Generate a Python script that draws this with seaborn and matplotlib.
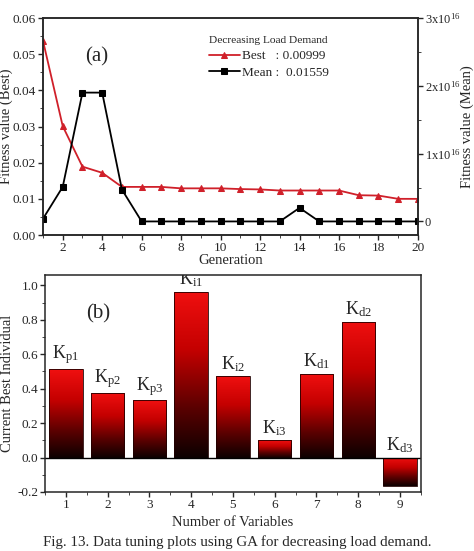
import matplotlib
matplotlib.use("agg")
import matplotlib.pyplot as plt
from matplotlib.colors import LinearSegmentedColormap
from matplotlib.ticker import MultipleLocator, FixedLocator, FixedFormatter, FormatStrFormatter
import numpy as np
import seaborn as sns

# panel (a): GA convergence
generation = list(range(1, 21))
best_fitness = [0.0537, 0.0301, 0.0189, 0.0172, 0.0133, 0.0133, 0.0133, 0.0129, 0.0129, 0.0129,
                0.0127, 0.0126, 0.0123, 0.0123, 0.0123, 0.0123, 0.0110, 0.0109, 0.0100, 0.00999]
# mean fitness in units of 1e16
mean_fitness = [0.04, 0.51, 1.90, 1.90, 0.47, 0.0, 0.0, 0.0, 0.0, 0.0,
                0.0, 0.0, 0.0, 0.20, 0.0, 0.0, 0.0, 0.0, 0.0, 0.0]
mean_ticks = [0, 1, 2, 3]
mean_ticklabels = ["0", "1x10$^{16}$", "2x10$^{16}$", "3x10$^{16}$"]

# panel (b): best individual
variables = [1, 2, 3, 4, 5, 6, 7, 8, 9]
best_individual = [0.514, 0.377, 0.333, 0.964, 0.473, 0.100, 0.485, 0.790, -0.163]
var_labels = ["K$_{p1}$", "K$_{p2}$", "K$_{p3}$", "K$_{i1}$", "K$_{i2}$",
              "K$_{i3}$", "K$_{d1}$", "K$_{d2}$", "K$_{d3}$"]

sns.set_style("ticks")
plt.rcParams['font.family'] = ['Liberation Serif', 'DejaVu Serif']
plt.rcParams['mathtext.default'] = 'regular'
plt.rcParams['xtick.direction'] = 'out'
plt.rcParams['ytick.direction'] = 'out'

red = "#d0202a"
fig = plt.figure(figsize=(4.74, 5.51), dpi=100)

ax1 = fig.add_axes([0.0907, 0.5735, 0.791, 0.3938])
sns.lineplot(x=generation, y=best_fitness, ax=ax1, color=red, marker="^",
             markersize=5, markeredgecolor=red, linewidth=1.3, label="Best   : 0.00999")
ax1.set_xlim(1, 20)
ax1.set_ylim(0, 0.06)
ax1.xaxis.set_major_locator(MultipleLocator(2))
ax1.xaxis.set_minor_locator(MultipleLocator(1))
ax1.yaxis.set_major_locator(MultipleLocator(0.01))
ax1.yaxis.set_minor_locator(MultipleLocator(0.005))
ax1.yaxis.set_major_formatter(FormatStrFormatter('%.2f'))
ax1.set_xlabel("Generation", fontsize=10.5, labelpad=0)
ax1.set_ylabel("Fitness value (Best)", fontsize=10.5)
ax1.yaxis.set_label_coords(-0.081, 0.5)
ax1.tick_params(labelsize=9.5, width=1, length=3.5, pad=1.5)
ax1.tick_params(which='minor', length=2)
ax1.text(0.112, 0.80, "(a)", transform=ax1.transAxes, fontsize=15)
ax1.get_legend().remove()

ax2 = ax1.twinx()
sns.lineplot(x=generation, y=mean_fitness, ax=ax2, color="black", marker="s",
             markersize=4, markeredgecolor="black", linewidth=1.3, label="Mean :  0.01559")
ax2.set_ylim(-0.2, 3)
ax2.yaxis.set_major_locator(FixedLocator(mean_ticks))
ax2.yaxis.set_major_formatter(FixedFormatter(mean_ticklabels))
ax2.yaxis.set_minor_locator(MultipleLocator(0.5))
ax2.set_ylabel("Fitness value (Mean)", fontsize=10.5)
ax2.yaxis.set_label_coords(1.113, 0.5)
ax2.tick_params(labelsize=9, width=1, length=3.5, pad=1.5)
ax2.tick_params(which='minor', length=2)
ax2.get_legend().remove()
for a in (ax1, ax2):
    for s in a.spines.values():
        s.set_linewidth(1.1)

h1, l1 = ax1.get_legend_handles_labels()
h2, l2 = ax2.get_legend_handles_labels()
leg = ax2.legend(h1 + h2, l1 + l2, title="Decreasing Load Demand", loc="upper left",
                 bbox_to_anchor=(0.41, 0.97), frameon=False, fontsize=9.5,
                 title_fontsize=8.2, handlelength=2.4, handletextpad=0.1,
                 labelspacing=0.35)
leg._legend_box.align = "left"

# panel (b)
ax3 = fig.add_axes([0.0949, 0.1071, 0.793, 0.3938])
sns.barplot(x=variables, y=best_individual, ax=ax3, native_scale=True, width=0.8,
            color=red, edgecolor="#200000", linewidth=0.6)
cmap = LinearSegmentedColormap.from_list(
    "redblack", [(0, "#0c0000"), (0.3, "#5a0000"), (0.65, "#c40000"), (1, "#f01010")])
grad = np.linspace(0, 1, 256).reshape(-1, 1)
for p in ax3.patches:
    x0, y0 = p.get_x(), p.get_y()
    w, h = p.get_width(), p.get_height()
    lo, hi = min(y0, y0 + h), max(y0, y0 + h)
    im = ax3.imshow(grad, extent=[x0, x0 + w, lo, hi], origin="lower", cmap=cmap,
                    aspect="auto", zorder=p.get_zorder())
    im.set_clip_path(p)
    p.set_facecolor("none")
    p.set_zorder(p.get_zorder() + 0.1)

for xv, yv, lab in zip(variables, best_individual, var_labels):
    ax3.text(xv, max(yv, 0) + 0.015, lab, ha="center", va="bottom", fontsize=13,
             clip_on=True)

ax3.axhline(0, color="black", linewidth=1)
ax3.set_xlim(0.5, 9.5)
ax3.set_ylim(-0.2, 1.06)
ax3.xaxis.set_major_locator(FixedLocator(variables))
ax3.xaxis.set_minor_locator(MultipleLocator(0.5))
ax3.yaxis.set_major_locator(MultipleLocator(0.2))
ax3.yaxis.set_minor_locator(MultipleLocator(0.1))
ax3.yaxis.set_major_formatter(FormatStrFormatter('%.1f'))
ax3.tick_params(labelsize=9.5, width=1, length=3.5, pad=1.5)
ax3.tick_params(which='minor', length=2)
ax3.set_xlabel("Number of Variables", fontsize=10.5, labelpad=4)
ax3.set_ylabel("Current Best Individual", fontsize=10.5)
ax3.yaxis.set_label_coords(-0.083, 0.5)
ax3.text(0.11, 0.80, "(b)", transform=ax3.transAxes, fontsize=15)
for s in ax3.spines.values():
    s.set_linewidth(1.1)
    s.set_visible(True)

fig.text(0.5, 0.004, "Fig. 13. Data tuning plots using GA for decreasing load demand.",
         ha="center", va="bottom", fontsize=10.8)

fig.savefig("out.png", dpi=100)
